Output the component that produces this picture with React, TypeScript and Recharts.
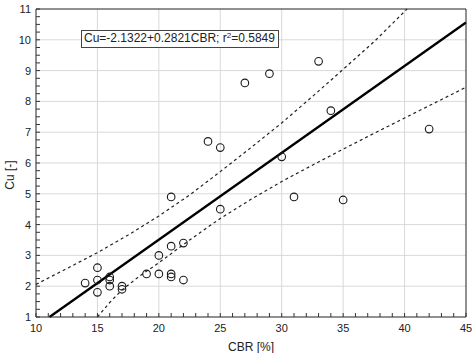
import React from 'react';
import {
  ComposedChart,
  XAxis,
  YAxis,
  Scatter,
  Line,
  Label,
  ReferenceLine,
} from 'recharts';

// Observed data points (CBR [%], Cu [-])
const cbrValues = [14, 15, 15, 15, 16, 16, 16, 17, 17, 19, 20, 20, 21, 21, 21, 21, 22, 22, 24, 25, 25, 27, 29, 30, 31, 33, 34, 35, 42];
const cuValues = [2.1, 2.6, 2.2, 1.8, 2.3, 2.2, 2.0, 2.0, 1.9, 2.4, 3.0, 2.4, 4.9, 3.3, 2.4, 2.3, 3.4, 2.2, 6.7, 6.5, 4.5, 8.6, 8.9, 6.2, 4.9, 9.3, 7.7, 4.8, 7.1];

// Regression line end points
const fitX = [11.1, 45];
const fitY = [1.0, 10.56];

// Upper confidence band (dashed)
const upperX = [10, 12.5, 15, 17.5, 20, 22.5, 25, 27.5, 30, 32.5, 35, 37.5, 40.2];
const upperY = [2.06, 2.57, 3.09, 3.66, 4.28, 4.96, 5.72, 6.5, 7.3, 8.16, 9.04, 9.93, 11.0];

// Lower confidence band (dashed)
const lowerX = [15, 16, 17, 18.5, 20, 22.5, 25, 27.5, 30, 32.5, 35, 37.5, 40, 42.5, 45];
const lowerY = [1.0, 1.47, 1.88, 2.35, 2.76, 3.5, 4.2, 4.82, 5.4, 5.93, 6.45, 6.96, 7.46, 7.96, 8.46];

// Axis ticks
const xMajorTicks = [10, 15, 20, 25, 30, 35, 40, 45];
const yMajorTicks = [1, 2, 3, 4, 5, 6, 7, 8, 9, 10, 11];
const xGridTicks = [15, 20, 25, 30, 35, 40];
const yGridTicks = [2, 3, 4, 5, 6, 7, 8, 9, 10];
const xMinorTicks = Array.from({ length: 36 }, (_, i) => 10 + i);
const yMinorTicks = Array.from({ length: 41 }, (_, i) => 1 + i * 0.25);

const xTitle = 'CBR [%]';
const yTitle = 'Cu [-]';

const points = cbrValues.map((x, i) => ({ x, y: cuValues[i] }));
const fitData = fitX.map((x, i) => ({ x, y: fitY[i] }));
const upperData = upperX.map((x, i) => ({ x, y: upperY[i] }));
const lowerData = lowerX.map((x, i) => ({ x, y: lowerY[i] }));

const FONT = "'Liberation Sans', Arial, sans-serif";
const TICK_COLOR = '#333';
const LABEL_COLOR = '#222';
const GRID_COLOR = '#d9d9d9';

const BottomTick = (props: any) => {
  const { x, y, payload } = props;
  const v = payload.value;
  const major = xMajorTicks.includes(v);
  return (
    <g>
      <line x1={x} y1={y} x2={x} y2={y - 4} stroke={TICK_COLOR} strokeWidth={1} />
      {major && (
        <text x={x} y={y + 15} textAnchor="middle" fontSize={11} fill={LABEL_COLOR} fontFamily={FONT}>
          {v}
        </text>
      )}
    </g>
  );
};

const TopTick = (props: any) => {
  const { x, y } = props;
  return <line x1={x} y1={y} x2={x} y2={y + 4} stroke={TICK_COLOR} strokeWidth={1} />;
};

const LeftTick = (props: any) => {
  const { x, y, payload } = props;
  const v = payload.value;
  const major = yMajorTicks.includes(v);
  return (
    <g>
      <line x1={x} y1={y} x2={x + 4} y2={y} stroke={TICK_COLOR} strokeWidth={1} />
      {major && (
        <text x={x - 5} y={y + 4} textAnchor="end" fontSize={11} fill={LABEL_COLOR} fontFamily={FONT}>
          {v}
        </text>
      )}
    </g>
  );
};

const RightTick = (props: any) => {
  const { x, y } = props;
  return <line x1={x} y1={y} x2={x - 4} y2={y} stroke={TICK_COLOR} strokeWidth={1} />;
};

const OpenCircle = (props: any) => {
  const { cx, cy } = props;
  if (cx == null || cy == null) return null;
  return <circle cx={cx} cy={cy} r={3.8} fill="none" stroke="#1a1a1a" strokeWidth={1.1} />;
};

const YTitle = (props: any) => {
  const vb = props.viewBox || { x: 0, y: 9, width: 36, height: 308 };
  const x = vb.x + 14;
  const y = vb.y + vb.height / 2 + 12;
  return (
    <text
      x={x}
      y={y}
      transform={`rotate(-90, ${x}, ${y})`}
      textAnchor="middle"
      fontSize={12}
      fill={LABEL_COLOR}
      fontFamily={FONT}
    >
      {yTitle}
    </text>
  );
};

export default function App() {
  return (
    <div style={{ position: 'absolute', left: 0, top: 0, width: 474, height: 353, background: '#fff' }}>
      <ComposedChart width={474} height={353} margin={{ top: 8, right: 7, bottom: 0, left: 0 }}>
        {xGridTicks.map((v) => (
          <ReferenceLine key={`gx${v}`} xAxisId="bottom" yAxisId="left" x={v} stroke={GRID_COLOR} strokeWidth={1} />
        ))}
        {yGridTicks.map((v) => (
          <ReferenceLine key={`gy${v}`} xAxisId="bottom" yAxisId="left" y={v} stroke={GRID_COLOR} strokeWidth={1} />
        ))}
        <XAxis
          xAxisId="bottom"
          orientation="bottom"
          type="number"
          dataKey="x"
          domain={[10, 45]}
          ticks={xMinorTicks}
          interval={0}
          height={36}
          tickSize={0}
          tickMargin={0}
          tickLine={false}
          tick={BottomTick}
          axisLine={{ stroke: '#222', strokeWidth: 1 }}
        >
          <Label value={xTitle} position="insideBottom" offset={2} fontSize={12} fill={LABEL_COLOR} fontFamily={FONT} />
        </XAxis>
        <XAxis
          xAxisId="top"
          orientation="top"
          type="number"
          dataKey="x"
          domain={[10, 45]}
          ticks={xMinorTicks}
          interval={0}
          height={1}
          tickSize={0}
          tickMargin={0}
          tickLine={false}
          tick={TopTick}
          axisLine={{ stroke: '#222', strokeWidth: 1 }}
        />
        <YAxis
          yAxisId="left"
          orientation="left"
          type="number"
          domain={[1, 11]}
          ticks={yMinorTicks}
          interval={0}
          width={36}
          tickSize={0}
          tickMargin={0}
          tickLine={false}
          tick={LeftTick}
          axisLine={{ stroke: '#222', strokeWidth: 1 }}
        >
          <Label content={YTitle} />
        </YAxis>
        <YAxis
          yAxisId="right"
          orientation="right"
          type="number"
          domain={[1, 11]}
          ticks={yMinorTicks}
          interval={0}
          width={1}
          tickSize={0}
          tickMargin={0}
          tickLine={false}
          tick={RightTick}
          axisLine={{ stroke: '#222', strokeWidth: 1 }}
        />
        <Line
          xAxisId="bottom"
          yAxisId="left"
          data={upperData}
          dataKey="y"
          type="linear"
          stroke="#222"
          strokeWidth={1.2}
          strokeDasharray="3 3"
          dot={false}
          activeDot={false}
          isAnimationActive={false}
        />
        <Line
          xAxisId="bottom"
          yAxisId="left"
          data={lowerData}
          dataKey="y"
          type="linear"
          stroke="#222"
          strokeWidth={1.2}
          strokeDasharray="3 3"
          dot={false}
          activeDot={false}
          isAnimationActive={false}
        />
        <Line
          xAxisId="bottom"
          yAxisId="left"
          data={fitData}
          dataKey="y"
          type="linear"
          stroke="#000"
          strokeWidth={2.3}
          dot={false}
          activeDot={false}
          isAnimationActive={false}
        />
        <Scatter
          xAxisId="bottom"
          yAxisId="left"
          data={points}
          dataKey="y"
          shape={OpenCircle}
          isAnimationActive={false}
        />
      </ComposedChart>
      <div
        style={{
          position: 'absolute',
          left: 81,
          top: 30,
          width: 198,
          height: 18,
          boxSizing: 'border-box',
          border: '1.5px solid #444',
          background: '#fff',
          fontFamily: FONT,
          fontSize: 12,
          lineHeight: '15px',
          color: '#222',
          paddingLeft: 2,
          whiteSpace: 'nowrap',
          overflow: 'hidden',
        }}
      >
        Cu=-2.1322+0.2821CBR; r<sup style={{ fontSize: 8, lineHeight: 0, verticalAlign: 4 }}>2</sup>=0.5849
      </div>
    </div>
  );
}
